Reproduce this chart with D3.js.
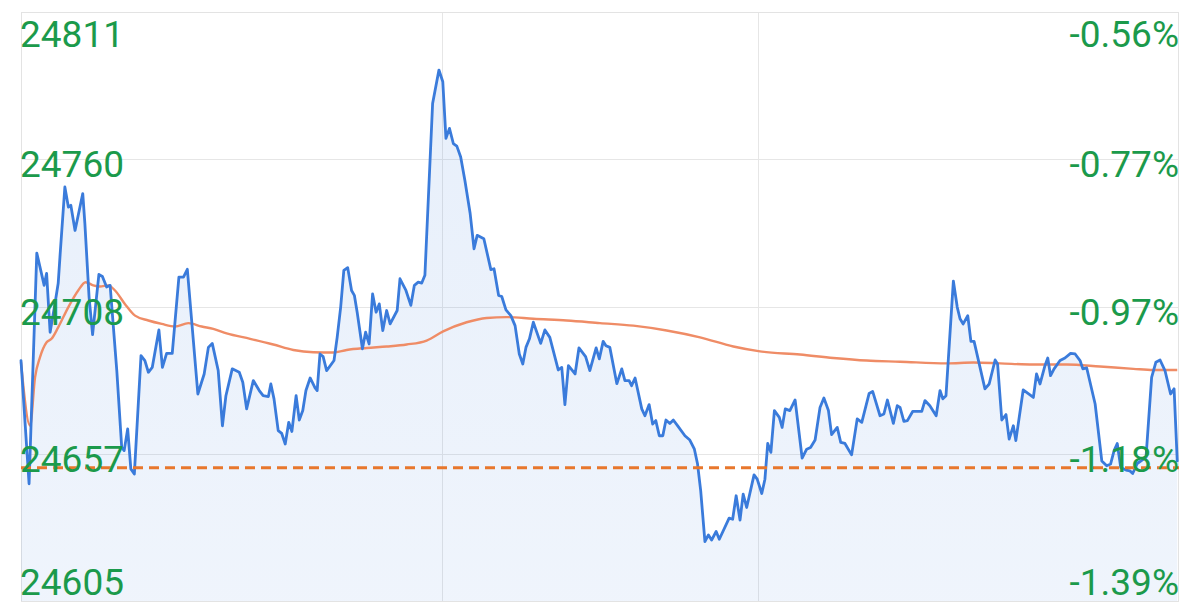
<!DOCTYPE html>
<html><head><meta charset="utf-8">
<script src="https://cdn.jsdelivr.net/npm/d3@7"></script>
<style>html,body{margin:0;padding:0;background:#fff;overflow:hidden}svg{display:block}</style>
</head><body>
<svg id="chart" width="1200" height="605"></svg>
<script>
// ---- data ----
const yDomain = [24605, 24811];
const leftTickLabels = ["24811", "24760", "24708", "24657", "24605"];
const rightTickLabels = ["-0.56%", "-0.77%", "-0.97%", "-1.18%", "-1.39%"];
const sessionMinutes = [0, 330];
const gridMinutes = [120, 210];
const lastPriceLine = 24651.6;

const priceMinutes = [0,2.3,4.5,6.6,7.3,8.3,9.7,10.6,11.1,12.5,13.5,14.2,15.4,17.6,18.2,19.4,20.4,22.2,23.2,24.4,25.4,27.3,28.7,29.4,30.4,31.3,32.3,34.2,35.3,36.3,37.4,39.3,40.3,41.5,43.1,45.0,46.3,47.4,50.4,52.2,53.4,54.5,56.2,57.4,58.4,60.2,62.2,63.2,64.3,66.2,67.9,69.0,70.5,71.2,72.1,73.3,74.3,75.3,76.3,77.2,78.4,79.3,80.3,81.2,82.4,83.8,84.4,85.2,86.1,87.1,89.2,90.1,91.1,92.0,93.1,94.2,95.0,95.8,97.3,98.2,99.2,100.2,101.2,102.1,103.1,104.2,105.2,107.2,108.0,109.7,111.1,112.1,113.2,114.2,115.1,117.3,119.1,120.2,121.1,122.1,123.2,124.2,125.3,126.5,128.0,129.1,130.0,131.9,133.9,134.8,136.1,137.0,138.2,139.6,140.8,142.0,143.0,143.9,144.9,146.0,148.1,149.3,150.7,153.1,154.1,155.0,156.0,157.9,159.0,160.9,162.1,163.9,164.8,165.9,166.7,167.8,169.8,171.2,172.1,173.3,174.0,175.0,176.9,177.8,179.0,180.0,180.9,181.9,182.9,183.8,184.9,185.9,187.3,189.2,190.6,191.9,192.8,193.7,194.9,195.9,196.8,198.1,199.0,201.8,202.8,203.8,204.9,205.8,206.8,208.9,209.8,211.1,212.0,212.8,213.7,214.7,216.1,216.9,217.8,219.1,220.6,222.6,223.9,225.0,226.3,227.7,228.8,230.1,231.0,232.6,233.6,234.8,236.7,238.3,239.6,241.7,242.7,244.8,245.9,246.9,248.6,249.7,250.5,251.6,252.6,254.1,256.7,257.6,259.0,260.8,261.9,262.7,263.6,265.7,266.8,267.6,268.5,269.8,270.7,271.6,274.7,275.9,277.6,278.3,279.5,280.7,281.6,282.8,283.5,285.6,288.5,289.4,290.4,291.8,292.6,293.4,294.4,296.1,297.5,299.1,300.4,301.8,302.6,303.7,306.1,308.0,309.4,310.5,311.5,312.4,313.4,314.9,316.0,316.8,318.1,320.6,322.2,323.4,324.6,326.0,327.6,328.6,329.5];

const prices = [24689.1,24646.0,24726.7,24715.4,24719.6,24699.0,24709.1,24716.1,24725.3,24749.8,24742.8,24743.4,24734.6,24747.5,24737.1,24711.3,24698.2,24719.2,24718.5,24714.8,24715.4,24685.6,24658.7,24657.6,24665.2,24651.2,24649.4,24690.8,24689.1,24685.0,24686.7,24699.8,24686.7,24691.6,24691.6,24718.3,24718.3,24721.0,24677.4,24684.4,24693.7,24695.1,24685.6,24666.3,24676.8,24686.2,24685.0,24681.5,24672.2,24682.1,24678.6,24676.8,24676.5,24680.9,24675.7,24664.6,24663.6,24659.9,24667.5,24664.3,24676.8,24668.3,24671.6,24678.6,24683.0,24679.5,24678.6,24691.4,24690.5,24685.6,24689.1,24697.2,24707.8,24720.6,24721.6,24713.6,24711.9,24706.0,24693.2,24699.0,24694.9,24712.4,24706.0,24708.9,24699.6,24706.6,24701.9,24706.6,24717.7,24713.6,24708.4,24715.4,24716.5,24716.2,24718.9,24779.0,24790.7,24786.6,24766.8,24770.3,24765.0,24764.1,24760.3,24752.1,24740.5,24728.2,24732.9,24731.7,24720.9,24721.2,24711.9,24711.5,24706.8,24704.8,24701.3,24691.4,24687.9,24693.7,24696.7,24702.5,24695.1,24699.8,24697.2,24685.8,24686.7,24673.7,24687.3,24684.4,24693.5,24690.5,24685.6,24693.5,24689.7,24695.8,24694.3,24693.7,24681.0,24686.2,24682.1,24682.1,24680.3,24683.0,24672.2,24669.8,24673.7,24666.9,24668.1,24662.8,24662.8,24668.3,24667.1,24668.3,24666.0,24662.8,24661.3,24658.1,24652.9,24643.5,24625.8,24628.1,24626.3,24629.3,24626.6,24634.0,24633.6,24641.8,24633.3,24642.4,24637.7,24649.1,24647.6,24642.6,24647.6,24660.1,24657.0,24671.6,24669.2,24665.7,24672.2,24671.6,24675.3,24655.0,24658.1,24658.7,24661.3,24672.7,24676.0,24671.6,24663.2,24665.7,24660.5,24660.1,24656.1,24668.7,24667.5,24677.6,24678.3,24669.8,24670.4,24675.3,24667.1,24673.3,24672.7,24667.8,24668.1,24671.3,24671.3,24675.1,24673.3,24669.8,24678.6,24675.7,24676.8,24716.9,24707.8,24703.7,24701.9,24704.8,24695.8,24695.8,24679.2,24680.9,24689.3,24687.9,24668.3,24670.2,24661.6,24666.3,24661.1,24678.8,24676.2,24684.4,24680.9,24687.3,24690.0,24683.8,24686.2,24689.1,24690.0,24691.6,24691.4,24689.1,24686.2,24686.5,24673.9,24654.0,24652.3,24652.9,24657.6,24660.1,24651.7,24650.8,24650.5,24649.6,24653.1,24655.2,24683.2,24688.5,24689.3,24685.6,24677.4,24679.2,24654.0];

const avgMinutes = [0,2.6,4.0,5.4,7.3,8.7,10.6,13.5,16.3,18.4,20.6,22.5,24.9,26.8,29.6,32.5,36.3,40.1,43.9,47.7,51.5,54.8,58.6,65.3,71.9,77.6,83.3,89.0,92.8,98.5,104.2,109.9,115.6,120.3,127.0,132.7,138.4,146.0,155.5,165.0,174.5,184.0,193.5,203.0,210.6,222.0,231.5,241.0,250.5,263.8,271.4,279.0,288.5,298.0,307.5,317.0,322.7,329.5];
const avgPrices = [24688.5,24666.3,24683.2,24690.2,24695.5,24696.7,24700.7,24707.8,24713.6,24716.5,24715.4,24715.0,24715.4,24713.6,24708.9,24704.8,24703.1,24701.9,24701.0,24702.2,24701.0,24700.2,24698.6,24696.7,24694.7,24692.8,24692.0,24691.9,24692.8,24693.5,24694.0,24694.7,24696.1,24699.3,24702.5,24704.0,24704.3,24703.7,24703.1,24702.2,24701.3,24699.6,24697.2,24694.0,24692.3,24691.2,24690.0,24689.1,24688.7,24688.1,24688.4,24688.1,24687.7,24687.7,24687.0,24686.2,24685.8,24685.8];

// ---- layout ----
const svg = d3.select("#chart");
const plot = {left: 21, right: 1179, top: 12, bottom: 601};
const x = d3.scaleLinear().domain(sessionMinutes).range([plot.left, plot.right]);
const y = d3.scaleLinear().domain(yDomain).range([plot.bottom, plot.top]);
const tickValues = d3.range(5).map(i => yDomain[1] - i * (yDomain[1] - yDomain[0]) / 4);

const pricePts = priceMinutes.map((m, i) => [m, prices[i]]).filter(d => d[1] != null);
const avgPts = avgMinutes.map((m, i) => [m, avgPrices[i]]).filter(d => d[1] != null);

const defs = svg.append("defs");
const grad = defs.append("linearGradient").attr("id", "fillGrad")
  .attr("x1", 0).attr("y1", 0).attr("x2", 0).attr("y2", 1);
grad.append("stop").attr("offset", "0%").attr("stop-color", "#3a7bdb").attr("stop-opacity", 0.12);
grad.append("stop").attr("offset", "100%").attr("stop-color", "#3a7bdb").attr("stop-opacity", 0.08);

// grid
const grid = svg.append("g");
grid.selectAll("line.h").data(tickValues).join("line")
  .attr("x1", plot.left).attr("x2", plot.right)
  .attr("y1", d => Math.round(y(d)) + 0.5).attr("y2", d => Math.round(y(d)) + 0.5)
  .attr("stroke", "#e6e6e6").attr("stroke-width", 1);
grid.selectAll("line.v").data(gridMinutes).join("line")
  .attr("x1", d => Math.round(x(d)) + 0.5).attr("x2", d => Math.round(x(d)) + 0.5)
  .attr("y1", plot.top).attr("y2", plot.bottom)
  .attr("stroke", "#e6e6e6").attr("stroke-width", 1);
// border
svg.append("rect").attr("x", plot.left + 0.5).attr("y", plot.top + 0.5)
  .attr("width", plot.right - plot.left - 1).attr("height", plot.bottom - plot.top)
  .attr("fill", "none").attr("stroke", "#e3e3e3").attr("stroke-width", 1);

// area
const area = d3.area().x(d => x(d[0])).y0(plot.bottom).y1(d => y(d[1]));
svg.append("path").datum(pricePts).attr("d", area).attr("fill", "url(#fillGrad)");

// average line
const avgLine = d3.line().x(d => x(d[0])).y(d => y(d[1])).curve(d3.curveMonotoneX);
svg.append("path").datum(avgPts).attr("d", avgLine)
  .attr("fill", "none").attr("stroke", "#ef8c66").attr("stroke-width", 2.4);

// price line
const line = d3.line().x(d => x(d[0])).y(d => y(d[1]));
svg.append("path").datum(pricePts).attr("d", line)
  .attr("fill", "none").attr("stroke", "#3a7bdb").attr("stroke-width", 2.8)
  .attr("stroke-linejoin", "round").attr("stroke-linecap", "round");

// last price dashed line
svg.append("line")
  .attr("x1", plot.left).attr("x2", plot.right)
  .attr("y1", y(lastPriceLine)).attr("y2", y(lastPriceLine))
  .attr("stroke", "#e8772c").attr("stroke-width", 3).attr("stroke-dasharray", "10,6");

// labels
const dyFor = i => i === 0 ? 35 : (i === 4 ? -6 : 18);
const labelColor = "#1b9a4b";
const labels = svg.append("g").attr("font-family", "Roboto, 'Noto Sans', sans-serif")
  .attr("font-size", 37).attr("fill", labelColor);
labels.selectAll("text.l").data(tickValues).join("text")
  .attr("x", 20).attr("y", (d, i) => y(d) + dyFor(i))
  .text((d, i) => leftTickLabels[i]);
labels.selectAll("text.r").data(tickValues).join("text")
  .attr("x", 1179).attr("y", (d, i) => y(d) + dyFor(i))
  .attr("text-anchor", "end")
  .text((d, i) => rightTickLabels[i]);
</script>
</body></html>
